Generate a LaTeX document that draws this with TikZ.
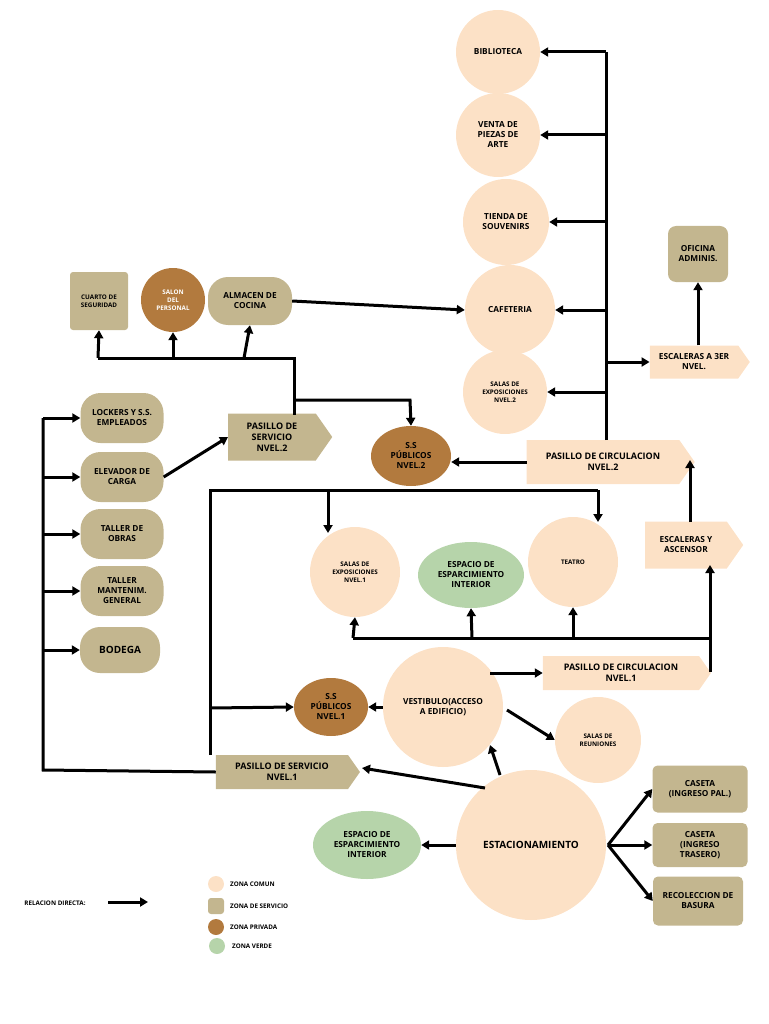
\documentclass[tikz,border=0pt]{standalone}
\usepackage{fontspec}
\setmainfont{Open Sans}
\usetikzlibrary{shapes.geometric,shapes.symbols,arrows.meta}
\definecolor{peach}{HTML}{FCE1C6}
\definecolor{tan}{HTML}{C3B68F}
\definecolor{brownz}{HTML}{B27A3E}
\definecolor{greenz}{HTML}{B6D4AA}
\tikzset{
 base/.style={font=\bfseries\fontsize{8.3}{10}\selectfont, align=center, inner sep=1pt},
 small/.style={font=\bfseries\fontsize{6.3}{7.8}\selectfont},
 cir/.style={base, circle, fill=peach, minimum size=#1},
 sbox/.style={base, rounded corners=8pt, fill=tan},
 bcir/.style={base, ellipse, fill=brownz, text=black},
 gell/.style={base, ellipse, fill=greenz},
 arr/.style={base, signal, signal to=east, fill=tan, signal pointer angle=110, inner xsep=0pt},
 parr/.style={base, signal, signal to=east, fill=peach, signal pointer angle=110, inner xsep=0pt},
 con/.style={line width=3pt, -{Triangle[length=8pt,width=9pt]}},
 ln/.style={line width=3pt},
}
\begin{document}
\begin{tikzpicture}[x=1pt,y=-1pt]
\useasboundingbox (0,0) rectangle (768,1024);
% peach circles
\node[cir=84pt] (bib) at (498,52) {BIBLIOTECA};
\node[cir=84pt] (ven) at (498,135) {VENTA DE\\PIEZAS DE\\ARTE};
\node[cir=86pt] (tie) at (506,222) {TIENDA DE\\SOUVENIRS};
\node[cir=90pt] (caf) at (510,310) {CAFETERIA};
\node[cir=84pt,small] (sal2) at (505,392) {SALAS DE\\EXPOSICIONES\\NVEL.2};
\node[cir=90pt,small] (sal1) at (355,572) {SALAS DE\\EXPOSICIONES\\NVEL.1};
\node[cir=90pt,small] (tea) at (573,562) {TEATRO};
\node[cir=120pt] (ves) at (443,707) {VESTIBULO(ACCESO\\A EDIFICIO)};
\node[cir=86pt,small] (reu) at (598,740) {SALAS DE\\REUNIONES};
\node[cir=150pt,font=\bfseries\fontsize{10}{12}\selectfont] (est) at (531,845) {ESTACIONAMIENTO};
% tan boxes
\node[sbox,minimum width=60pt,minimum height=56pt] (ofi) at (698,254) {OFICINA\\ADMINIS.};
\node[sbox,rounded corners=3pt,minimum width=58pt,minimum height=58pt,small] (cua) at (99,301) {CUARTO DE\\SEGURIDAD};
\node[bcir,circle,minimum size=64pt,small,text=white] (slp) at (173,300) {SALON\\DEL\\PERSONAL};
\node[sbox,minimum width=84pt,minimum height=48pt,rounded corners=20pt] (alm) at (250,301) {ALMACEN DE\\COCINA};
\node[sbox,minimum width=83pt,minimum height=50pt,rounded corners=20pt] (loc) at (122,418) {LOCKERS Y S.S.\\EMPLEADOS};
\node[sbox,minimum width=83pt,minimum height=50pt,rounded corners=20pt] (ele) at (122,477) {ELEVADOR DE\\CARGA};
\node[sbox,minimum width=83pt,minimum height=50pt,rounded corners=20pt] (tob) at (122,534) {TALLER DE\\OBRAS};
\node[sbox,minimum width=83pt,minimum height=50pt,rounded corners=20pt] (tma) at (122,591) {TALLER\\MANTENIM.\\GENERAL};
\node[sbox,minimum width=80pt,minimum height=46pt,rounded corners=20pt,font=\bfseries\fontsize{10}{12}\selectfont] (bod) at (120,650) {BODEGA};
\node[sbox,rounded corners=5pt,minimum width=95pt,minimum height=47pt] (ca1) at (700,789) {CASETA\\(INGRESO PAL.)};
\node[sbox,rounded corners=5pt,minimum width=95pt,minimum height=44pt] (ca2) at (700,845) {CASETA\\(INGRESO\\TRASERO)};
\node[sbox,rounded corners=5pt,minimum width=90pt,minimum height=49pt] (bas) at (698,901) {RECOLECCION DE\\BASURA};
% brown and green
\node[bcir,minimum width=80pt,minimum height=60pt] (ss2) at (411,456) {S.S\\PÚBLICOS\\NVEL.2};
\node[bcir,minimum width=74pt,minimum height=58pt] (ss1) at (331,707) {S.S\\PÚBLICOS\\NVEL.1};
\node[gell,minimum width=106pt,minimum height=66pt] (esp1) at (471,575) {ESPACIO DE\\ESPARCIMIENTO\\INTERIOR};
\node[gell,minimum width=108pt,minimum height=68pt] (esp2) at (367,845) {ESPACIO DE\\ESPARCIMIENTO\\INTERIOR};
% arrow shapes
\node[parr,minimum width=100pt,minimum height=33pt] (e3) at (694,362) {ESCALERAS A 3ER\\NVEL.};
\node[arr,minimum width=104pt,minimum height=47pt,font=\bfseries\fontsize{9}{11}\selectfont] (ps2) at (272,437) {PASILLO DE\\SERVICIO\\NVEL.2};
\node[parr,minimum width=168pt,minimum height=44pt,font=\bfseries\fontsize{9}{11}\selectfont] (pc2) at (603,462) {PASILLO DE CIRCULACION\\NVEL.2};
\node[parr,minimum width=98pt,minimum height=47pt] (esa) at (686,545) {ESCALERAS Y\\ASCENSOR};
\node[parr,minimum width=168pt,minimum height=34pt,font=\bfseries\fontsize{9}{11}\selectfont] (pc1) at (621,673) {PASILLO DE CIRCULACION\\NVEL.1};
\node[arr,minimum width=144pt,minimum height=34pt,font=\bfseries\fontsize{9}{11}\selectfont] (ps1) at (282,772) {PASILLO DE SERVICIO\\NVEL.1};
% connectors
\coordinate (sp) at (606,52);
\draw[ln] (606,440) -- (sp);
\draw[con] (606,52) -- (bib.east);
\draw[con] (606,135) -- (ven.east);
\draw[con] (606,222) -- (tie.east);
\draw[con] (606,310) -- (caf.east);
\draw[con] (606,392) -- (sal2.east);
\draw[con] (606,362) -- (e3.west);
\draw[con] (e3.north -| ofi) -- (ofi.south);
\draw[con] (alm.east) -- (caf.west);
\draw[ln] (98,358) -- (294,358) -- (294,415);
\draw[con] (98,358) -- (cua.south);
\draw[con] (173,358) -- (slp.south);
\draw[con] (244,358) -- (alm.south);
\draw[con] (294,400) -- (410,400) -- (ss2.north);
\draw[con] (pc2.west) -- (ss2.east |- pc2.west);
\draw[con] (ele.east) -- (ps2.west);
\draw[ln] (43,418) -- (43,770) -- (ps1.west);
\foreach \n in {loc,ele,tob,tma,bod} \draw[con] (43,0 |- \n.west) -- (\n.west);
\draw[ln] (210,755) -- (210,490) -- (598,490);
\draw[con] (328,490) -- (328,533);
\draw[con] (598,490) -- (598,522);
\draw[con] (210,708) -- (ss1.west);
\draw[ln] (353,638) -- (710,638);
\draw[con] (353,638) -- (sal1.south);
\draw[con] (472,638) -- (esp1.south);
\draw[con] (573,638) -- (tea.south);
\draw[con] (710,672) -- (710,565);
\draw[con] (690,522) -- (690,460);
\draw[con] (490,673) -- (pc1.west);
\draw[con] (ves.west) -- (ss1.east);
\draw[con] (507,710) -- (reu.west);
\draw[con] (500,775) -- (490,745);
\draw[con] (485,788) -- (362,768);
\draw[con] (est.west) -- (esp2.east);
\draw[con] (608,845) -- (ca1.west);
\draw[con] (608,845) -- (ca2.west);
\draw[con] (608,845) -- (bas.west);
% legend
\node[base,small] (lr) at (55,903) {RELACION DIRECTA:};
\coordinate (la) at (148,902);
\draw[con] (108,902) -- (la);
\fill[peach] (216,884) circle (8);
\fill[tan, rounded corners=3pt] (208,898) rectangle (224,914);
\fill[brownz] (216,927) circle (8);
\fill[greenz] (217,946) circle (8);
\node[base,anchor=west,small] (l1) at (229,884) {ZONA COMUN};
\node[base,anchor=west,small] (l2) at (229,906) {ZONA DE SERVICIO};
\node[base,anchor=west,small] (l3) at (229,927) {ZONA PRIVADA};
\node[base,anchor=west,small] (l4) at (231,946) {ZONA VERDE};
\end{tikzpicture}
\end{document}
